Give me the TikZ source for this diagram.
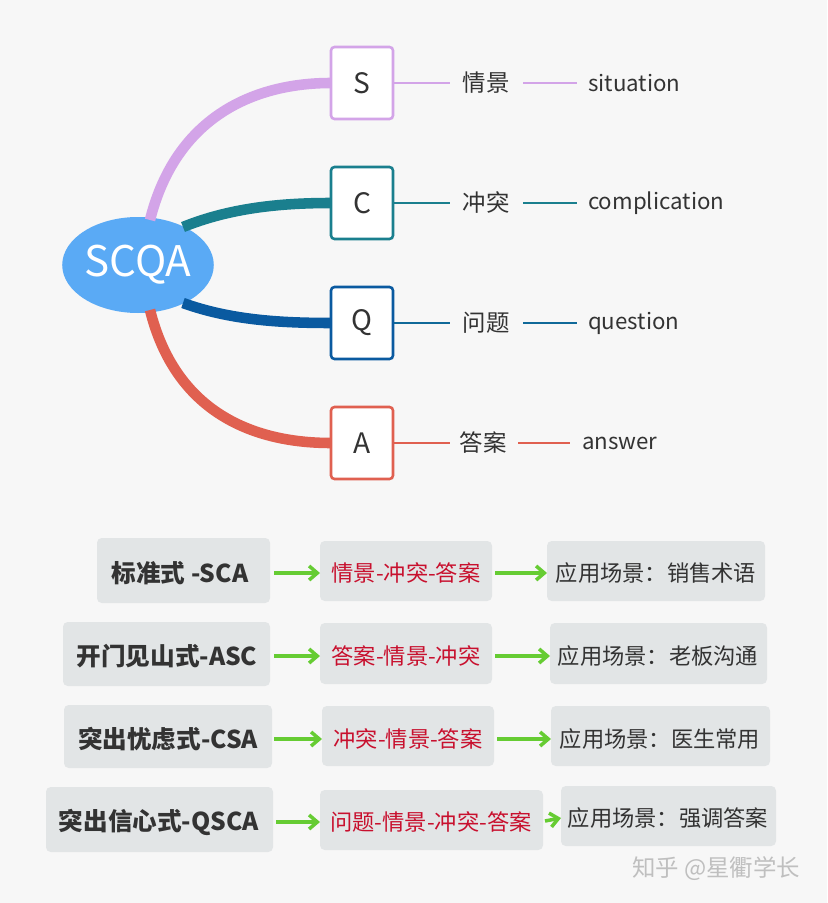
\documentclass[tikz,border=0pt]{standalone}
\usepackage{fontspec}
\setmainfont{Noto Sans CJK SC}
\usetikzlibrary{shapes.geometric,arrows.meta}
\definecolor{bg}{HTML}{F7F7F7}
\definecolor{cs}{HTML}{D3A4E8}
\definecolor{cc}{HTML}{1A7F8E}
\definecolor{cq}{HTML}{0A5AA0}
\definecolor{ca}{HTML}{E06050}
\definecolor{ell}{HTML}{5AAAF5}
\definecolor{gbox}{HTML}{E2E5E6}
\definecolor{grn}{HTML}{66CC33}
\definecolor{redt}{HTML}{C8102E}
\definecolor{txt}{HTML}{333333}
\begin{document}
\begin{tikzpicture}[x=0.03cm,y=-0.03cm,
  lbox/.style={draw,line width=2.2pt,fill=white,rounded corners=3pt,minimum width=62*0.03cm,minimum height=72*0.03cm,inner sep=0pt,font=\fontsize{24}{26}\selectfont,text=txt},
  cn/.style={font=\fontsize{20}{22}\selectfont,text=txt},
  en/.style={font=\fontsize{19}{22}\selectfont,text=txt,anchor=west},
  t1/.style={font=\bfseries\fontsize{21}{24}\selectfont,text=txt},
  t2/.style={font=\fontsize{19}{22}\selectfont,text=redt},
  t3/.style={font=\fontsize{19}{22}\selectfont,text=txt},
  ga/.style={-{Straight Barb[length=7pt,width=12pt]},line width=3pt,grn}]
\fill[bg] (0,0) rectangle (827,903);
\node[ellipse,fill=ell,minimum width=140*0.03cm,minimum height=96*0.03cm,inner sep=0pt,text=white,font=\fontsize{36}{38}\selectfont] (root) at (138,265) {SCQA};
\begin{scope}[line width=9pt]
\draw[cs] (150,220) .. controls (175,120) and (250,83) .. (331,83);
\draw[cc] (183,227) .. controls (230,208) and (280,203) .. (331,203);
\draw[cq] (183,303) .. controls (230,320) and (280,323) .. (331,323);
\draw[ca] (150,310) .. controls (175,410) and (250,443) .. (331,443);
\end{scope}
\node[lbox,draw=cs] (S) at (362,83) {S};
\node[lbox,draw=cc] (C) at (362,203) {C};
\node[lbox,draw=cq] (Q) at (362,323) {Q};
\node[lbox,draw=ca] (A) at (362,443) {A};
\node[cn] (s1) at (486,83) {情景};
\node[en] (s2) at (584,83) {situation};
\node[cn] (c1) at (486,203) {冲突};
\node[en] (c2) at (584,203) {complication};
\node[cn] (q1) at (486,323) {问题};
\node[en] (q2) at (584,323) {question};
\node[cn] (a1) at (483,443) {答案};
\node[en] (a2) at (578,443) {answer};
\draw[cs,line width=1pt] (S.east)--(450,83) (523,83)--(577,83);
\draw[cc,line width=1pt] (C.east)--(450,203) (523,203)--(577,203);
\draw[cq!60!cc,line width=1pt] (Q.east)--(450,323) (523,323)--(577,323);
\draw[ca,line width=1pt] (A.east)--(450,443) (518,443)--(570,443);
\fill[gbox,rounded corners=4pt] (97,538) rectangle (270,603);
\fill[gbox,rounded corners=4pt] (320,541) rectangle (492,601);
\fill[gbox,rounded corners=4pt] (547,541) rectangle (765,601);
\node[t1] (r1a) at (180,573) {标准式 -SCA};
\node[t2] (r1b) at (406,573) {情景-冲突-答案};
\node[t3] (r1c) at (656,573) {应用场景：销售术语};
\fill[gbox,rounded corners=4pt] (63,622) rectangle (270,686);
\fill[gbox,rounded corners=4pt] (320,623) rectangle (492,684);
\fill[gbox,rounded corners=4pt] (550,623) rectangle (767,684);
\node[t1] (r2a) at (167,656) {开门见山式-ASC};
\node[t2] (r2b) at (406,656) {答案-情景-冲突};
\node[t3] (r2c) at (658,656) {应用场景：老板沟通};
\fill[gbox,rounded corners=4pt] (64,705) rectangle (272,768);
\fill[gbox,rounded corners=4pt] (322,706) rectangle (494,766);
\fill[gbox,rounded corners=4pt] (551,706) rectangle (770,766);
\node[t1] (r3a) at (168,739) {突出忧虑式-CSA};
\node[t2] (r3b) at (408,739) {冲突-情景-答案};
\node[t3] (r3c) at (660,739) {应用场景：医生常用};
\fill[gbox,rounded corners=4pt] (46,787) rectangle (273,852);
\fill[gbox,rounded corners=4pt] (320,790) rectangle (543,850);
\fill[gbox,rounded corners=4pt] (561,786) rectangle (776,846);
\node[t1] (r4a) at (159,822) {突出信心式-QSCA};
\node[t2] (r4b) at (431,822) {问题-情景-冲突-答案};
\node[t3] (r4c) at (668,818) {应用场景：强调答案};
\coordinate (a1s) at (274,573); \coordinate (a1e) at (320,573);
\coordinate (b1s) at (495,573); \coordinate (b1e) at (547,573);
\draw[ga] (a1s)--(a1e); \draw[ga] (b1s)--(b1e);
\coordinate (a2s) at (274,656); \coordinate (a2e) at (320,656);
\coordinate (b2s) at (495,656); \coordinate (b2e) at (550,656);
\draw[ga] (a2s)--(a2e); \draw[ga] (b2s)--(b2e);
\coordinate (a3s) at (274,739); \coordinate (a3e) at (322,739);
\coordinate (b3s) at (497,739); \coordinate (b3e) at (551,739);
\draw[ga] (a3s)--(a3e); \draw[ga] (b3s)--(b3e);
\coordinate (a4s) at (276,822); \coordinate (a4e) at (320,822);
\coordinate (b4s) at (545,821); \coordinate (b4e) at (561,818);
\draw[ga] (a4s)--(a4e); \draw[ga] (b4s)--(b4e);
\node[font=\fontsize{20}{22}\selectfont,text=gray!50] (wm) at (716,869) {知乎 @星衢学长};
\end{tikzpicture}
\end{document}
